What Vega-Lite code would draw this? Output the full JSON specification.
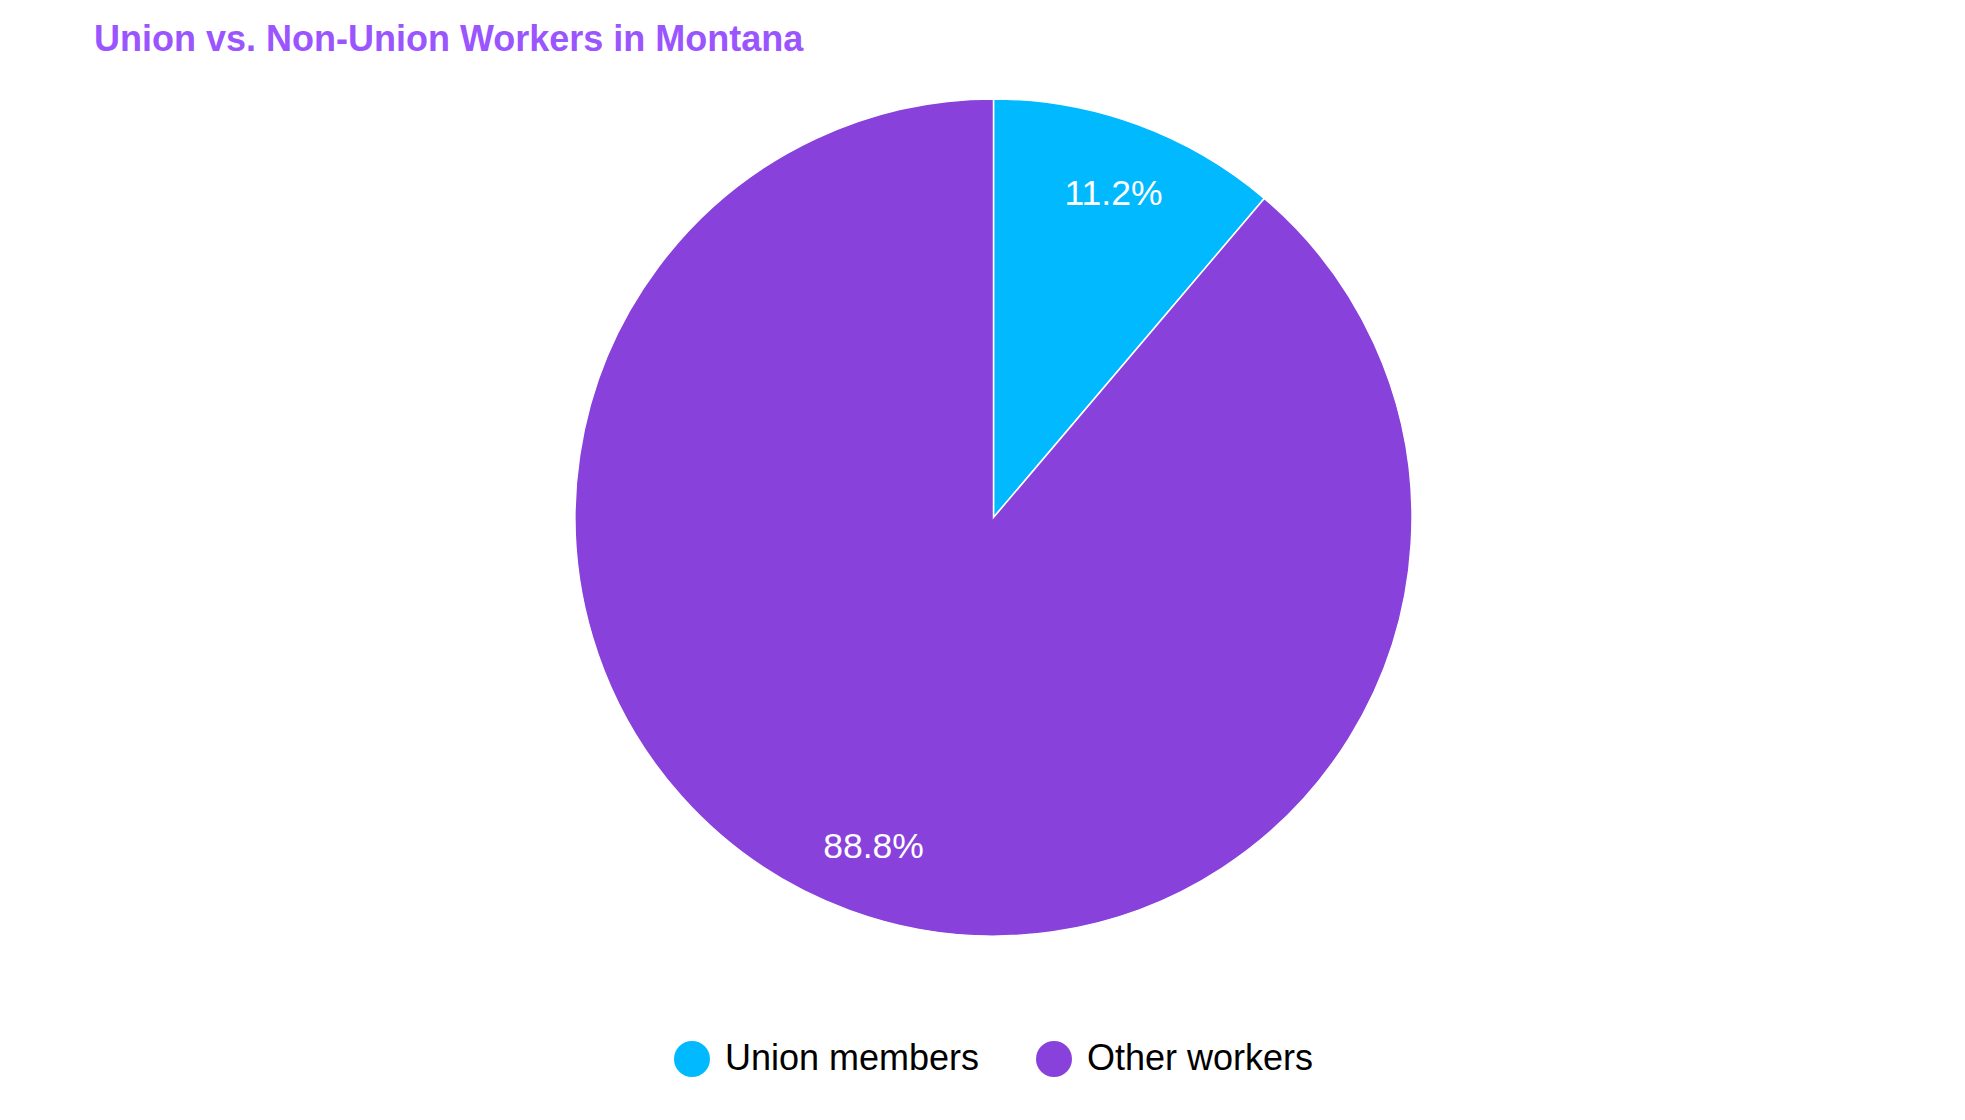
{
  "$schema": "https://vega.github.io/schema/vega-lite/v6.json",
  "autosize": {"type": "none"},
  "padding": {"left": 575, "top": 99, "right": 553, "bottom": 184},
  "width": 837,
  "height": 837,
  "background": "white",
  "title": {
    "text": "Union vs. Non-Union Workers in Montana",
    "anchor": "start",
    "frame": "group",
    "dx": -481,
    "fontSize": 36,
    "fontWeight": "bold",
    "font": "Liberation Sans",
    "color": "#9B55FF",
    "baseline": "alphabetic",
    "offset": 9
  },
  "data": {
    "values": [
      {"category": "Union members", "share": 0.112},
      {"category": "Other workers", "share": 0.888}
    ]
  },
  "encoding": {
    "theta": {"field": "share", "type": "quantitative", "stack": true},
    "order": {"field": "share", "type": "quantitative", "sort": "ascending"}
  },
  "layer": [
    {
      "mark": {"type": "arc", "stroke": "white", "strokeWidth": 1.5},
      "encoding": {
        "color": {
          "field": "category",
          "type": "nominal",
          "sort": ["Union members", "Other workers"],
          "scale": {"domain": ["Union members", "Other workers"], "range": ["#00B9FF", "#8941DB"]},
          "legend": {
            "title": null,
            "orient": "none",
            "legendX": 99,
            "legendY": 942,
            "direction": "horizontal",
            "symbolType": "circle",
            "symbolSize": 1296,
            "symbolStrokeWidth": 0,
            "symbolOpacity": 1,
            "labelFontSize": 36,
            "labelFont": "Liberation Sans",
            "labelColor": "#000000",
            "labelLimit": 500,
            "labelOffset": 15,
            "columnPadding": 56
          }
        }
      }
    },
    {
      "mark": {"type": "text", "radius": 348, "dy": 3, "fill": "white", "fontSize": 35.5, "font": "Liberation Sans", "align": "center", "baseline": "middle"},
      "encoding": {
        "text": {"field": "share", "type": "quantitative", "format": ".1%"}
      }
    }
  ],
  "config": {
    "view": {"stroke": null},
    "font": "Liberation Sans"
  }
}
